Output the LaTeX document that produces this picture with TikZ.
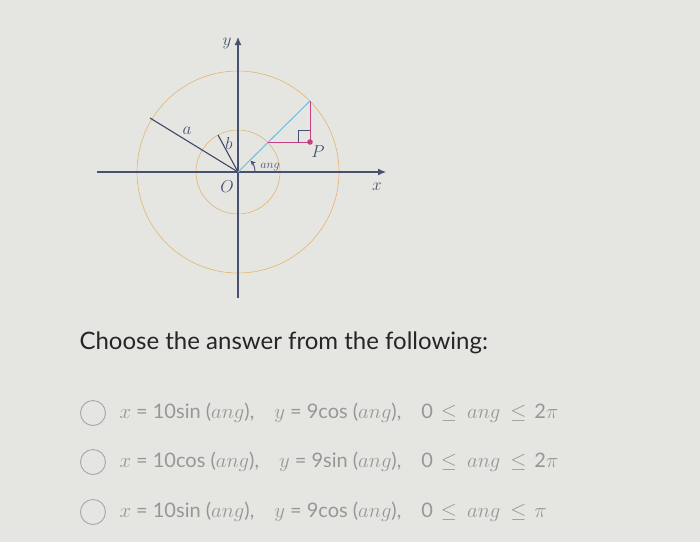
\documentclass[tikz,border=0pt]{standalone}
\usepackage{fontspec}
\setmainfont{Lato}
\usetikzlibrary{arrows.meta,calc}

\definecolor{screen}{RGB}{229,230,226}
\definecolor{ringcol}{RGB}{228,180,110}
\definecolor{axiscol}{RGB}{72,80,112}
\definecolor{raycol}{RGB}{112,192,232}
\definecolor{legcol}{RGB}{196,64,128}
\definecolor{optcol}{RGB}{150,152,150}

\newcommand{\optgap}{\hspace{20pt}}
\newcommand{\range}[1]{0\hspace{8pt}$\leq$\hspace{10pt}$ang$\hspace{10pt}$\leq$\hspace{8pt}#1}

\begin{document}
\begin{tikzpicture}[x=1pt,y=-1pt,
    axisline/.style={draw=axiscol, line width=1.1pt, -{Latex[length=8pt,width=7pt]}},
    ring/.style={draw=ringcol, line width=0.6pt},
    radius line/.style={draw=axiscol!90!black, line width=1.1pt},
    leg/.style={draw=legcol, line width=1pt},
    lbl/.style={font=\fontsize{17}{17}\selectfont, text=axiscol},
    radio/.style={draw=gray!70, line width=0.9pt, circle, minimum size=25pt, inner sep=0pt},
    option/.style={anchor=west, text=optcol, font=\fontsize{20}{22}\selectfont}]
    \fill[screen] (0,0) rectangle (700,542);

    % axes
    \coordinate (O) at (238,172);
    \coordinate (xl) at (97,172);
    \coordinate (xr) at (386,172);
    \coordinate (yb) at (238,298);
    \coordinate (yt) at (238,37);
    \draw[ring] (O) circle[radius=101pt]; % outer
    \draw[ring] (O) circle[radius=42pt]; % inner
    \draw[axisline] (xl) -- (xr);
    \draw[axisline] (yb) -- (yt);
    \node[lbl] (xlab) at (377,187) {$x$};
    \node[lbl] (ylab) at (227,43) {$y$};
    \node[lbl] (olab) at (227,187) {$O$};

    % radii a and b
    \coordinate (A) at (150,118);
    \coordinate (B) at (218,135);
    \draw[radius line] (O) -- (A);
    \draw[radius line] (O) -- (B);
    \node[lbl] (alab) at (187,131) {$a$};
    \node[lbl] (blab) at (229,143) {$b$};

    % ray and point P
    \coordinate (Q) at (310,101);
    \coordinate (R) at (268,142);
    \coordinate (P) at (310,142);
    \draw[draw=raycol, line width=1.1pt] (O) -- (Q);
    \draw[leg] (Q) -- (P);
    \draw[leg] (R) -- (P);
    \draw[draw=axiscol, line width=0.8pt] (298,142) -- (298,130) -- (310,130); % right angle
    \fill[legcol] (P) circle[radius=2.8pt];
    \node[lbl] (plab) at (318,152) {$P$};

    % angle
    \draw[draw=axiscol, line width=0.9pt, -{Stealth[length=5pt,width=5pt]}] ($(O)+(17,0)$) arc[start angle=0, end angle=42, radius=17pt];
    \node[lbl, font=\fontsize{12}{12}\selectfont] (anglab) at (270,167) {$ang$};

    % question
    \node[anchor=west, text=black!85, font=\fontsize{24}{28}\selectfont] (prompt) at (76,343) {Choose the answer from the following:};

    % options
    \node[radio] (r1) at (93,413) {};
    \node[radio] (r2) at (93,462) {};
    \node[radio] (r3) at (93,512) {};
    \node[option] (o1) at (116,413) {$x$ = 10sin ($ang$),\optgap$y$ = 9cos ($ang$),\optgap\range{2$\pi$}};
    \node[option] (o2) at (116,462) {$x$ = 10cos ($ang$),\optgap$y$ = 9sin ($ang$),\optgap\range{2$\pi$}};
    \node[option] (o3) at (116,512) {$x$ = 10sin ($ang$),\optgap$y$ = 9cos ($ang$),\optgap\range{$\pi$}};
\end{tikzpicture}
\end{document}
